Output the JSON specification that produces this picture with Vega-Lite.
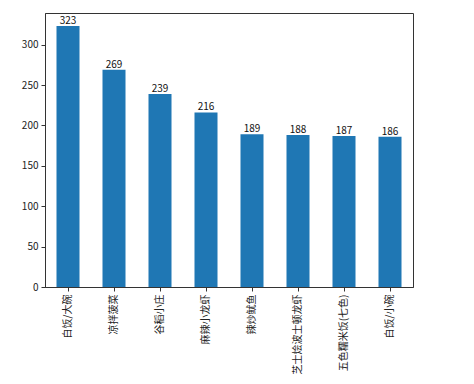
{
  "$schema": "https://vega.github.io/schema/vega-lite/v6.json",
  "autosize": "none",
  "width": 368,
  "height": 274,
  "padding": {"left": 45, "top": 13, "right": 61, "bottom": 97},
  "background": "white",
  "config": {
    "font": "Noto Sans CJK SC",
    "view": {"stroke": "#333333", "strokeWidth": 1}
  },
  "data": {
    "values": [
      {"dish": "白饭/大碗", "count": 323},
      {"dish": "凉拌菠菜", "count": 269},
      {"dish": "谷稻小庄", "count": 239},
      {"dish": "麻辣小龙虾", "count": 216},
      {"dish": "辣炒鱿鱼", "count": 189},
      {"dish": "芝士烩波士顿龙虾", "count": 188},
      {"dish": "五色糯米饭(七色)", "count": 187},
      {"dish": "白饭/小碗", "count": 186}
    ]
  },
  "encoding": {
    "x": {
      "field": "dish", "type": "nominal", "sort": null,
      "scale": {"paddingInner": 0.5, "paddingOuter": 0.25},
      "axis": {"title": null, "labelAngle": -90, "labelFontSize": 10, "labelColor": "#222", "domainColor": "#333", "tickColor": "#333", "tickSize": 4, "labelPadding": 3}
    },
    "y": {
      "field": "count", "type": "quantitative",
      "scale": {"domain": [0, 339.15], "nice": false},
      "axis": {"title": null, "values": [0, 50, 100, 150, 200, 250, 300], "grid": false, "labelFontSize": 10, "labelColor": "#222", "domainColor": "#333", "tickColor": "#333", "tickSize": 4, "labelPadding": 3}
    }
  },
  "layer": [
    {"mark": {"type": "bar", "color": "#1f77b4"}},
    {"mark": {"type": "text", "dy": -5, "fontSize": 10, "color": "#111"},
     "encoding": {"text": {"field": "count", "type": "quantitative"}}}
  ]
}
